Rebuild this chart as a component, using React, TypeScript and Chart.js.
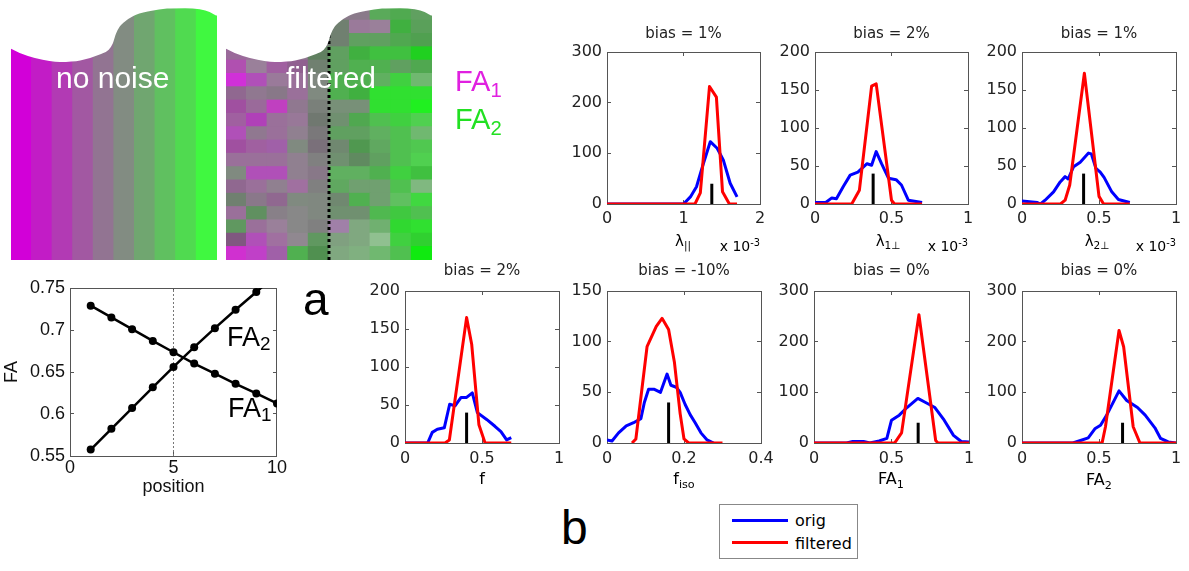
import React, { useEffect, useRef } from 'react';
import { Chart, registerables } from 'chart.js';

Chart.register(...registerables);

const ARIAL = '"Liberation Sans", Arial, Helvetica, sans-serif';
const DEJAVU = '"DejaVu Sans", "Liberation Sans", sans-serif';

// ---------------- panel a : images ----------------
const imageColumns = ['1', '2', '3', '4', '5', '6', '7', '8', '9', '10'];
const imageRowCount = 19;
const noNoiseHeights = [19, 19, 19, 19, 19, 19, 19, 19, 19, 19];
const noNoiseColors = ['#d200d8', '#c21cc6', '#b23ab4', '#a258a2', '#927492', '#828c82', '#70a670', '#60c060', '#50da50', '#40f840'];
const cellHeights = [1, 1, 1, 1, 1, 1, 1, 1, 1, 1];
// bottom row first
const filteredRows = [
  ['#d030d0', '#c040c8', '#a060a8', '#50b050', '#509050', '#80a880', '#80b080', '#70b870', '#50c050', '#10ea10'],
  ['#805880', '#b050b8', '#a070a0', '#908890', '#609860', '#80a080', '#80a880', '#90c090', '#40d040', '#30d030'],
  ['#609860', '#9a709a', '#9a809a', '#888888', '#808080', '#a080a8', '#80a880', '#70b070', '#30d830', '#30e030'],
  ['#9a709a', '#609060', '#888088', '#888888', '#808880', '#709070', '#709070', '#50b850', '#40c840', '#50c050'],
  ['#708070', '#8a788a', '#906890', '#808a80', '#808880', '#708870', '#50b050', '#70a070', '#60c060', '#40d840'],
  ['#906890', '#9a709a', '#908090', '#a070a0', '#808080', '#60a860', '#70a070', '#70a070', '#50c050', '#80b880'],
  ['#808a80', '#b050b8', '#b050b8', '#908090', '#887888', '#60b060', '#60b060', '#50b050', '#40d040', '#40c040'],
  ['#9a709a', '#9a709a', '#9a709a', '#908090', '#808080', '#709070', '#608a60', '#60a060', '#50c050', '#50d050'],
  ['#a050a0', '#a060a0', '#a060a8', '#808a80', '#7a707a', '#708870', '#509850', '#60a860', '#50c050', '#50c850'],
  ['#b050b8', '#907890', '#9a709a', '#908090', '#7a787a', '#60a060', '#60a060', '#60b060', '#50c050', '#70b870'],
  ['#a060a0', '#b040b8', '#9a709a', '#987898', '#707870', '#709070', '#50a850', '#50c050', '#40d040', '#50d050'],
  ['#a050a0', '#9a6a9a', '#c040c0', '#907890', '#7a807a', '#789078', '#789078', '#30e030', '#30e030', '#20f020'],
  ['#906890', '#907890', '#887888', '#9a709a', '#808a80', '#50b050', '#40b040', '#30e030', '#30e030', '#30e030'],
  ['#d030d8', '#b050b8', '#9a7a9a', '#9a709a', '#808880', '#50b050', '#50b050', '#60b060', '#40d040', '#70b870'],
  ['#b050b0', '#9a809a', '#a060a0', '#906090', '#708070', '#60a060', '#50b050', '#50b050', '#60a060', '#50a850'],
  ['#9a6a9a', '#9a709a', '#9a709a', '#907890', '#608060', '#60a060', '#40b040', '#40c040', '#40c040', '#20d020'],
  ['#9a709a', '#9a709a', '#9a709a', '#907890', '#808080', '#708070', '#60a060', '#60a060', '#50a850', '#50a050'],
  ['#9a709a', '#9a709a', '#9a709a', '#907890', '#808080', '#708070', '#9a7a9a', '#9a809a', '#40b040', '#5aa05a'],
  ['#9a709a', '#9a709a', '#9a709a', '#907890', '#808080', '#8a7a8a', '#8a7a8a', '#5aaa5a', '#50aa50', '#60a060'],
];
const imageTopX = [0, 0.44, 1.17, 2.38, 3.35, 4.32, 4.71, 4.89, 5.05, 5.24, 5.44, 5.92, 6.75, 7.57, 8.45, 9.17, 9.66, 10];
const imageTopY = [15.94, 15.62, 15.25, 14.95, 15.06, 15.52, 15.85, 16.27, 17.02, 17.57, 17.9, 18.4, 18.77, 18.96, 18.99, 18.9, 18.7, 18.4];
const boundaryColumn = 5;

// ---------------- panel a : FA profile ----------------
const positions = [1, 2, 3, 4, 5, 6, 7, 8, 9, 10];
const fa1Profile = [0.729, 0.715, 0.701, 0.687, 0.6735, 0.66, 0.648, 0.636, 0.6245, 0.6125];
const fa2Profile = [0.5576, 0.5823, 0.607, 0.6317, 0.656, 0.6795, 0.7022, 0.7241, 0.7452, 0.767];
const positionRange = [0, 10];
const positionStep = 5;
const faRange = [0.55, 0.75];
const faStep = 0.05;
const midPosition = 5;

// ---------------- panel b : histograms ----------------
const truthHeight = 40;

const lamParOrigX = [0, 1.0, 1.09, 1.17, 1.26, 1.35, 1.44, 1.52, 1.61, 1.7];
const lamParOrigY = [0, 0, 14, 34, 80, 123, 110, 87, 41, 14];
const lamParFiltX = [0, 1.15, 1.22, 1.34, 1.43, 1.51, 1.6, 1.7];
const lamParFiltY = [0, 0, 22, 232, 211, 24, 0, 0];
const lamParTrue = 1.37;

const lam1OrigX = [0, 0.07, 0.11, 0.14, 0.185, 0.23, 0.28, 0.34, 0.37, 0.4, 0.435, 0.48, 0.53, 0.565, 0.61, 0.7];
const lam1OrigY = [2, 2, 8, 7, 23, 38, 42, 53, 51, 69, 53, 34, 32, 25, 5, 2];
const lam1FiltX = [0, 0.24, 0.29, 0.37, 0.4, 0.5, 0.52, 0.7];
const lam1FiltY = [0, 0, 18, 155, 158, 5, 0, 0];
const lam1True = 0.38;

const lam2OrigX = [0, 0.1, 0.12, 0.15, 0.205, 0.248, 0.28, 0.3, 0.335, 0.378, 0.432, 0.45, 0.48, 0.508, 0.533, 0.583, 0.626, 0.7];
const lam2OrigY = [4, 2, 0, 5, 16, 29, 36, 33, 49, 55, 67, 66, 47, 42, 35, 16, 6, 2];
const lam2FiltX = [0, 0.25, 0.28, 0.31, 0.405, 0.5, 0.53, 0.7];
const lam2FiltY = [0, 0, 5, 25, 172, 10, 0, 0];
const lam2True = 0.4;

const fOrigX = [0, 0.147, 0.177, 0.21, 0.255, 0.29, 0.325, 0.364, 0.4, 0.437, 0.47, 0.53, 0.584, 0.623, 0.66, 0.69];
const fOrigY = [0, 0, 14, 18, 20, 51, 49, 60, 60, 66, 40, 31, 22, 15, 4, 7];
const fFiltX = [0, 0.26, 0.288, 0.4, 0.433, 0.48, 0.52, 0.69];
const fFiltY = [0, 0, 4, 165, 130, 24, 0, 0];
const fTrue = 0.4;

const fisoOrigX = [0, 0.013, 0.03, 0.05, 0.069, 0.088, 0.097, 0.108, 0.123, 0.139, 0.156, 0.166, 0.18, 0.19, 0.203, 0.216, 0.229, 0.244, 0.26, 0.277];
const fisoOrigY = [3, 2, 10, 17, 20, 24, 40, 53, 53, 50, 68, 57, 55, 50, 38, 28, 20, 10, 3, 0];
const fisoFiltX = [0.065, 0.075, 0.104, 0.128, 0.143, 0.16, 0.175, 0.19, 0.2, 0.212, 0.3];
const fisoFiltY = [0, 4, 95, 115, 123, 112, 80, 29, 4, 0, 0];
const fisoTrue = 0.16;

const fa1OrigX = [0, 0.21, 0.25, 0.32, 0.36, 0.42, 0.47, 0.5, 0.55, 0.6, 0.67, 0.72, 0.78, 0.84, 0.9, 0.95, 1.0];
const fa1OrigY = [0, 0, 3, 3, 0, 4, 9, 45, 55, 70, 88, 80, 70, 45, 15, 3, 2];
const fa1FiltX = [0, 0.52, 0.565, 0.677, 0.785, 0.8, 1.0];
const fa1FiltY = [0, 0, 20, 253, 5, 0, 0];
const fa1True = 0.672;

const fa2OrigX = [0, 0.33, 0.38, 0.43, 0.473, 0.51, 0.55, 0.63, 0.68, 0.75, 0.8, 0.863, 0.9, 0.95, 1.0];
const fa2OrigY = [0, 0, 5, 10, 28, 35, 55, 103, 84, 70, 55, 30, 9, 2, 0];
const fa2FiltX = [0, 0.52, 0.542, 0.63, 0.66, 0.722, 0.766, 1.0];
const fa2FiltY = [0, 0, 32, 222, 190, 32, 0, 0];
const fa2True = 0.653;

const histTitles = ['bias = 1%', 'bias = 2%', 'bias = 1%', 'bias = 2%', 'bias = -10%', 'bias = 0%', 'bias = 0%'];
const histXMax = [2, 1, 1, 1, 0.4, 1, 1];
const histXStep = [1, 0.5, 0.5, 0.5, 0.2, 0.5, 0.5];
const histYMax = [300, 200, 200, 200, 150, 300, 300];
const histYStep = [100, 50, 50, 50, 50, 100, 100];

type HistData = { origX: number[]; origY: number[]; filtX: number[]; filtY: number[]; truth: number };
const histData: HistData[] = [
  { origX: lamParOrigX, origY: lamParOrigY, filtX: lamParFiltX, filtY: lamParFiltY, truth: lamParTrue },
  { origX: lam1OrigX, origY: lam1OrigY, filtX: lam1FiltX, filtY: lam1FiltY, truth: lam1True },
  { origX: lam2OrigX, origY: lam2OrigY, filtX: lam2FiltX, filtY: lam2FiltY, truth: lam2True },
  { origX: fOrigX, origY: fOrigY, filtX: fFiltX, filtY: fFiltY, truth: fTrue },
  { origX: fisoOrigX, origY: fisoOrigY, filtX: fisoFiltX, filtY: fisoFiltY, truth: fisoTrue },
  { origX: fa1OrigX, origY: fa1OrigY, filtX: fa1FiltX, filtY: fa1FiltY, truth: fa1True },
  { origX: fa2OrigX, origY: fa2OrigY, filtX: fa2FiltX, filtY: fa2FiltY, truth: fa2True },
];

// layout of plot areas (left, top, right, bottom)
const histBoxes = [
  [607, 52, 760, 204],
  [815, 52, 968, 204],
  [1022, 52, 1176, 204],
  [405, 291, 559, 443],
  [607, 291, 761, 443],
  [814, 291, 969, 443],
  [1022, 291, 1176, 443],
];

const pts = (xs: number[], ys: number[]) => xs.map((x, i) => ({ x, y: ys[i] }));
const fmt = (v: number | string) => String(Number(Number(v).toFixed(3)));

const AX = '#555555';
const boxGrid = { display: true, drawOnChartArea: false, drawTicks: true, tickLength: -4, color: AX, lineWidth: 1 };
const boxBorder = { display: true, color: AX, width: 1 };

function imageConfig(filtered: boolean): any {
  const datasets: any[] = [
    {
      type: 'line',
      data: pts(imageTopX, imageTopY),
      xAxisID: 'xm',
      yAxisID: 'ym',
      borderColor: '#ffffff',
      borderWidth: 2,
      pointRadius: 0,
      fill: 'end',
      backgroundColor: '#ffffff',
      cubicInterpolationMode: 'monotone',
      clip: 4,
      order: 0,
    },
  ];
  const barBase = {
    type: 'bar',
    xAxisID: 'x',
    yAxisID: 'y',
    borderWidth: 0,
    barPercentage: 1,
    categoryPercentage: 1,
    grouped: false,
    inflateAmount: 0.6,
    stack: 'cells',
    order: 2,
  };
  if (filtered) {
    datasets.push({
      type: 'line',
      data: [{ x: boundaryColumn, y: 0 }, { x: boundaryColumn, y: imageRowCount }],
      xAxisID: 'xm',
      yAxisID: 'ym',
      borderColor: '#000000',
      borderWidth: 3,
      borderDash: [3, 3],
      pointRadius: 0,
      order: 1,
    });
    filteredRows.forEach((colors) => {
      datasets.push({ ...barBase, data: cellHeights, backgroundColor: colors });
    });
  } else {
    datasets.push({ ...barBase, data: noNoiseHeights, backgroundColor: noNoiseColors });
  }
  return {
    type: 'bar',
    data: { labels: imageColumns, datasets },
    options: {
      responsive: false,
      animation: false,
      events: [],
      layout: { padding: 0 },
      datasets: { bar: { barPercentage: 1, categoryPercentage: 1 } },
      plugins: { legend: { display: false }, tooltip: { enabled: false }, title: { display: false } },
      scales: {
        x: { type: 'category', stacked: true, display: false, offset: true },
        y: { type: 'linear', stacked: true, min: 0, max: imageRowCount, display: false },
        xm: { type: 'linear', min: 0, max: imageColumns.length, display: false, offset: false, grid: { offset: false } },
        ym: { type: 'linear', min: 0, max: imageRowCount, display: false, offset: false },
      },
    },
  };
}

function profileConfig(): any {
  const font = { family: ARIAL, size: 18 };
  return {
    type: 'line',
    data: {
      datasets: [
        { label: 'FA1', data: pts(positions, fa1Profile), borderColor: '#000', backgroundColor: '#000', borderWidth: 2.5, pointRadius: 4, pointBorderWidth: 0, pointBackgroundColor: '#000', order: 0 },
        { label: 'FA2', data: pts(positions, fa2Profile), borderColor: '#000', backgroundColor: '#000', borderWidth: 2.5, pointRadius: 4, pointBorderWidth: 0, pointBackgroundColor: '#000', order: 1 },
        { label: 'mid', data: [{ x: midPosition, y: faRange[0] }, { x: midPosition, y: faRange[1] }], borderColor: '#777', borderWidth: 1, borderDash: [2, 2], pointRadius: 0, order: 2 },
      ],
    },
    options: {
      responsive: false,
      animation: false,
      events: [],
      layout: { padding: { top: 20, right: 14, left: 0, bottom: 0 } },
      plugins: { legend: { display: false }, tooltip: { enabled: false } },
      scales: {
        x: {
          type: 'linear', min: positionRange[0], max: positionRange[1],
          ticks: { stepSize: positionStep, font, color: '#111', padding: 5, maxRotation: 0, minRotation: 0, callback: fmt },
          grid: boxGrid, border: boxBorder,
          title: { display: true, text: 'position', font, color: '#111', padding: 0 },
          afterFit: (s: any) => { s.height = 42; },
        },
        y: {
          type: 'linear', min: faRange[0], max: faRange[1],
          ticks: { stepSize: faStep, font, color: '#111', padding: 9, callback: fmt },
          grid: boxGrid, border: boxBorder,
          title: { display: true, text: 'FA', font, color: '#111', padding: { top: 1, bottom: 0 } },
          afterFit: (s: any) => { s.width = 70; },
        },
        xTop: {
          type: 'linear', position: 'top', min: positionRange[0], max: positionRange[1],
          ticks: { display: false, stepSize: positionStep }, grid: boxGrid, border: boxBorder,
          afterFit: (s: any) => { s.height = 0; },
        },
        yRight: {
          type: 'linear', position: 'right', min: faRange[0], max: faRange[1],
          ticks: { display: false, stepSize: faStep }, grid: boxGrid, border: boxBorder,
          afterFit: (s: any) => { s.width = 0; },
        },
      },
    },
  };
}

const HIST_SIDE = 50;
const HIST_TOP = 45;
const HIST_BOTTOM = 30;

function histConfig(i: number): any {
  const d = histData[i];
  const bottomRow = i >= 3;
  const gap = bottomRow ? 19.5 : 18;
  const titleLine = 18;
  const pTop = HIST_TOP - gap - titleLine / 2;
  const tickFont = { family: DEJAVU, size: 16 };
  return {
    type: 'line',
    data: {
      datasets: [
        { label: 'true', data: [{ x: d.truth, y: 0 }, { x: d.truth, y: truthHeight }], borderColor: '#000000', borderWidth: 3, pointRadius: 0, borderCapStyle: 'butt', order: 0 },
        { label: 'filtered', data: pts(d.filtX, d.filtY), borderColor: '#ff0000', borderWidth: 3, pointRadius: 0, borderJoinStyle: 'round', order: 1 },
        { label: 'orig', data: pts(d.origX, d.origY), borderColor: '#0000ff', borderWidth: 3, pointRadius: 0, borderJoinStyle: 'round', order: 2 },
      ],
    },
    options: {
      responsive: false,
      animation: false,
      events: [],
      layout: { padding: { top: pTop, right: 0, left: 0, bottom: 0 } },
      plugins: {
        legend: { display: false },
        tooltip: { enabled: false },
        title: {
          display: true, text: histTitles[i], color: '#222', align: 'center',
          font: { family: DEJAVU, size: 15, weight: 'normal', lineHeight: 1.2 },
          padding: { top: 0, bottom: HIST_TOP - pTop - titleLine },
        },
      },
      scales: {
        x: {
          type: 'linear', min: 0, max: histXMax[i],
          ticks: { stepSize: histXStep[i], font: tickFont, color: '#222', padding: bottomRow ? 10 : 9, maxRotation: 0, minRotation: 0, autoSkip: false, callback: fmt },
          grid: boxGrid, border: boxBorder,
          afterFit: (s: any) => { s.height = HIST_BOTTOM; },
        },
        y: {
          type: 'linear', min: 0, max: histYMax[i],
          ticks: { stepSize: histYStep[i], font: tickFont, color: '#222', padding: 9, callback: fmt },
          grid: boxGrid, border: boxBorder,
          afterFit: (s: any) => { s.width = HIST_SIDE; },
        },
        xTop: {
          type: 'linear', position: 'top', min: 0, max: histXMax[i],
          ticks: { display: false, stepSize: histXStep[i] }, grid: boxGrid, border: boxBorder,
          afterFit: (s: any) => { s.height = 0; },
        },
        yRight: {
          type: 'linear', position: 'right', min: 0, max: histYMax[i],
          ticks: { display: false, stepSize: histYStep[i] }, grid: boxGrid, border: boxBorder,
          afterFit: (s: any) => { s.width = HIST_SIDE; },
        },
      },
    },
  };
}

function ChartCanvas({ left, top, width, height, make }: { left: number; top: number; width: number; height: number; make: () => any }) {
  const ref = useRef<HTMLCanvasElement>(null);
  useEffect(() => {
    const chart = new Chart(ref.current as HTMLCanvasElement, make());
    return () => chart.destroy();
  }, []);
  return <canvas ref={ref} width={width} height={height} style={{ position: 'absolute', left, top, width, height }} />;
}

type LP = { x: number; base: number; size: number; family: string; color?: string; align?: 'left' | 'center' | 'right'; children: React.ReactNode };
function Label({ x, base, size, family, color = '#000', align = 'left', children }: LP) {
  const w = 300;
  const left = align === 'left' ? x : align === 'center' ? x - w / 2 : x - w;
  return (
    <div
      style={{
        position: 'absolute', left, top: base - 0.846 * size,
        width: align === 'left' ? undefined : w, textAlign: align,
        fontSize: size, fontFamily: family, color, lineHeight: 1, whiteSpace: 'nowrap',
      }}
    >
      {children}
    </div>
  );
}
const Sub = ({ children, shift = 0.28 }: { children: React.ReactNode; shift?: number }) => (
  <span style={{ fontSize: '0.7em', position: 'relative', top: `${shift}em` }}>{children}</span>
);
const Sup = ({ children }: { children: React.ReactNode }) => (
  <span style={{ fontSize: '0.7em', position: 'relative', top: '-0.55em' }}>{children}</span>
);

export default function App() {
  return (
    <div style={{ position: 'absolute', left: 0, top: 0, width: 1189, height: 571, background: '#ffffff', overflow: 'hidden' }}>
      <ChartCanvas left={11} top={7} width={206} height={253} make={() => imageConfig(false)} />
      <ChartCanvas left={226} top={7} width={206} height={253} make={() => imageConfig(true)} />
      <Label x={56} base={88} size={30} family={ARIAL} color="#ffffff">no noise</Label>
      <Label x={286} base={88} size={30} family={ARIAL} color="#ffffff">filtered</Label>
      <Label x={455} base={92} size={29} family={ARIAL} color="#e020e0">FA<Sub>1</Sub></Label>
      <Label x={455} base={130} size={29} family={ARIAL} color="#22e022">FA<Sub>2</Sub></Label>

      <ChartCanvas left={0} top={268} width={292} height={230} make={profileConfig} />
      <Label x={227} base={347} size={27} family={ARIAL}>FA<Sub shift={0.2}>2</Sub></Label>
      <Label x={228} base={418} size={27} family={ARIAL}>FA<Sub shift={0.2}>1</Sub></Label>
      <Label x={303} base={315} size={46} family={ARIAL}>a</Label>

      {histBoxes.map((b, i) => (
        <ChartCanvas
          key={i}
          left={b[0] - HIST_SIDE}
          top={b[1] - HIST_TOP}
          width={b[2] - b[0] + 2 * HIST_SIDE}
          height={b[3] - b[1] + HIST_TOP + HIST_BOTTOM}
          make={() => histConfig(i)}
        />
      ))}

      <Label x={683} base={247} size={15} family={DEJAVU} align="center">λ<Sub>||</Sub></Label>
      <Label x={760} base={251} size={14} family={DEJAVU} align="right">x 10<Sup>-3</Sup></Label>
      <Label x={888} base={247} size={15} family={DEJAVU} align="center">λ<Sub>1⊥</Sub></Label>
      <Label x={968} base={251} size={14} family={DEJAVU} align="right">x 10<Sup>-3</Sup></Label>
      <Label x={1097} base={247} size={15} family={DEJAVU} align="center">λ<Sub>2⊥</Sub></Label>
      <Label x={1176} base={251} size={14} family={DEJAVU} align="right">x 10<Sup>-3</Sup></Label>

      <Label x={482} base={485} size={16} family={DEJAVU} align="center">f</Label>
      <Label x={684} base={485} size={16} family={DEJAVU} align="center">f<Sub>iso</Sub></Label>
      <Label x={891} base={485} size={16} family={DEJAVU} align="center">FA<Sub>1</Sub></Label>
      <Label x={1099} base={486} size={16} family={DEJAVU} align="center">FA<Sub>2</Sub></Label>

      <div style={{ position: 'absolute', left: 719, top: 504, width: 137, height: 53, border: '1px solid #888', background: '#fff' }} />
      <div style={{ position: 'absolute', left: 732, top: 518.5, width: 56, height: 3, background: '#0000ff' }} />
      <div style={{ position: 'absolute', left: 732, top: 541, width: 56, height: 3, background: '#ff0000' }} />
      <Label x={795} base={527} size={16} family={DEJAVU}>orig</Label>
      <Label x={795} base={550} size={16} family={DEJAVU}>filtered</Label>

      <Label x={561} base={545} size={48} family={ARIAL}>b</Label>
    </div>
  );
}
